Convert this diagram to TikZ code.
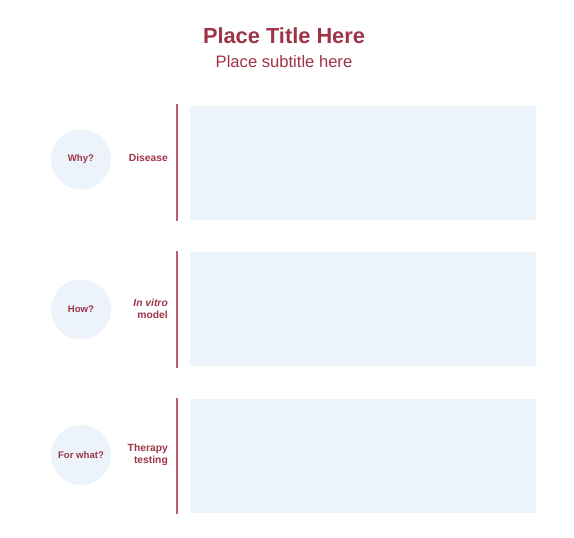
\documentclass[tikz,border=0pt]{standalone}
\usepackage{fontspec}
\setmainfont{Liberation Sans}
\definecolor{wine}{HTML}{9E3447}
\definecolor{wineline}{HTML}{B5606E}
\definecolor{paleblue}{HTML}{EDF3FB}
\begin{document}
\begin{tikzpicture}[x=1pt,y=-1pt,
  panel/.style={fill=paleblue,draw=none},
  qcircle/.style={circle,fill=paleblue,minimum size=60pt,inner sep=0pt,text=wine,font=\fontsize{9.6}{11}\selectfont\bfseries},
  rowlabel/.style={anchor=east,align=right,text=wine,font=\fontsize{10.3}{12.5}\selectfont\bfseries,inner sep=0pt},
  divider/.style={draw=wineline,line width=2pt}]
\useasboundingbox (0,0) rectangle (574,538);
\node[text=wine,font=\fontsize{21.8}{24}\selectfont\bfseries] (title) at (284,36) {Place Title Here};
\node[text=wine,font=\fontsize{16.6}{19}\selectfont] (subtitle) at (284,62) {Place subtitle here};
% row 1
\node[qcircle] (c1) at (81,159.5) {Why?};
\node[rowlabel] (l1) at (168,158) {Disease};
\coordinate (d1t) at (176.7,104);
\coordinate (d1b) at (176.7,220.5);
\draw[divider] (d1t) -- (d1b);
\path[panel] (190,106) rectangle (536,220);
% row 2
\node[qcircle] (c2) at (81,309.5) {How?};
\node[rowlabel] (l2) at (168,309) {\textit{In vitro}\\model};
\coordinate (d2t) at (176.7,251);
\coordinate (d2b) at (176.7,367.5);
\draw[divider] (d2t) -- (d2b);
\path[panel] (190,252) rectangle (536,366);
% row 3
\node[qcircle] (c3) at (81,455) {For what?};
\node[rowlabel] (l3) at (168,455) {Therapy\\testing};
\coordinate (d3t) at (176.7,397.5);
\coordinate (d3b) at (176.7,514);
\draw[divider] (d3t) -- (d3b);
\path[panel] (190,399) rectangle (536,513);
\end{tikzpicture}
\end{document}
